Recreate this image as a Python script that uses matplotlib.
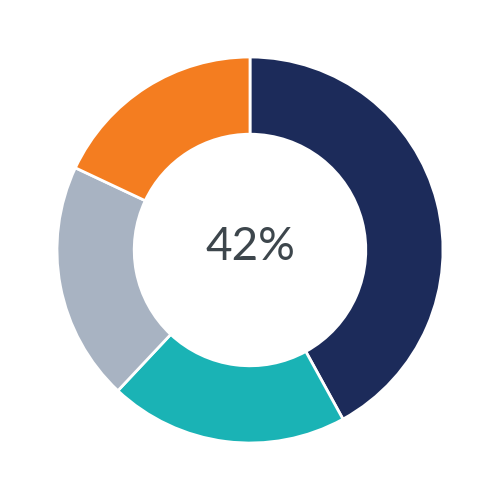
import matplotlib
matplotlib.use('Agg')
import matplotlib.pyplot as plt

segments = ['A', 'B', 'C', 'D']
values = [42, 20, 20, 18]
colors = ['#1c2b5a', '#1ab3b5', '#a8b3c2', '#f47d20']
center_label = '42%'

fig = plt.figure(figsize=(5, 5), dpi=100)
ax = fig.add_axes([0, 0, 1, 1])

ax.pie(values, colors=colors, startangle=90, counterclock=False,
       radius=1.0,
       wedgeprops=dict(width=0.4, edgecolor='white', linewidth=2))

ax.text(0, 0.015, center_label, ha='center', va='center',
        fontsize=33, color='#3d464c', family='Lato')

lim = 250 / 193
ax.set_xlim(-lim, lim)
ax.set_ylim(-lim, lim)
ax.set_aspect('equal')
ax.axis('off')

fig.savefig('out.png', dpi=100, facecolor='white')
